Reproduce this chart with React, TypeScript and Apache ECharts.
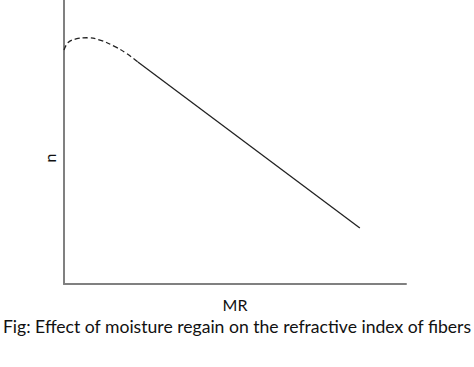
import React, { useEffect, useRef } from "react";
import * as echarts from "echarts";

const dashedCurve: [number, number][] = [
  [0, 82.4],
  [1.2, 85.0],
  [3.5, 86.3],
  [6.7, 86.7],
  [10.5, 85.9],
  [14.9, 83.6],
  [18.4, 81.1],
  [21.6, 78.2],
];
const solidLine: [number, number][] = [
  [21.6, 78.2],
  [86.5, 19.7],
];
const xName = "MR";
const yName = "n";
const caption = "Fig: Effect of moisture regain on the refractive index of fibers";

export default function App() {
  const ref = useRef<HTMLDivElement>(null);
  useEffect(() => {
    const chart = echarts.init(ref.current!, null, { renderer: "svg" });
    const font = "Lato, sans-serif";
    chart.setOption({
      animation: false,
      backgroundColor: "#ffffff",
      grid: { left: 64, top: 0, right: 68, bottom: 83 },
      xAxis: {
        type: "value",
        min: 0,
        max: 100,
        name: xName,
        nameLocation: "middle",
        nameGap: 12,
        nameTextStyle: { fontFamily: font, fontSize: 16, color: "#111" },
        axisLine: { show: true, lineStyle: { color: "#808080", width: 2 } },
        axisTick: { show: false },
        axisLabel: { show: false },
        splitLine: { show: false },
      },
      yAxis: {
        type: "value",
        min: 0,
        max: 100,
        axisLine: { show: true, lineStyle: { color: "#808080", width: 2 } },
        axisTick: { show: false },
        axisLabel: { show: false },
        splitLine: { show: false },
      },
      graphic: [
        {
          type: "text",
          x: 49,
          y: 158,
          rotation: Math.PI / 2,
          style: {
            text: yName,
            fontFamily: font,
            fontSize: 16,
            fill: "#111",
            textAlign: "center",
            textVerticalAlign: "middle",
          },
        },
        {
          type: "text",
          x: 237,
          y: 326,
          style: {
            text: caption,
            fontFamily: font,
            fontSize: 17.6,
            fill: "#111",
            textAlign: "center",
            textVerticalAlign: "middle",
          },
        },
      ],
      series: [
        {
          type: "line",
          data: dashedCurve,
          smooth: 0.4,
          symbol: "none",
          lineStyle: { color: "#222", width: 1.3, type: [5, 3] },
        },
        {
          type: "line",
          data: solidLine,
          symbol: "none",
          lineStyle: { color: "#222", width: 1.3 },
        },
      ],
    });
    return () => chart.dispose();
  }, []);
  return (
    <div
      ref={ref}
      style={{ position: "absolute", left: 0, top: 0, width: 474, height: 367 }}
    />
  );
}
